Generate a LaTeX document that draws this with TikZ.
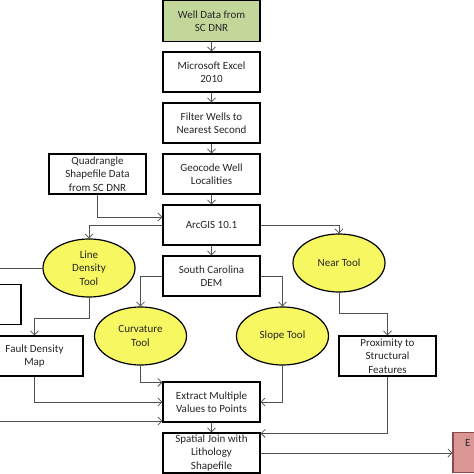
\documentclass[tikz,border=0pt]{standalone}
\usepackage{fontspec}
\setmainfont{Carlito}
\usepackage{xcolor}
\usetikzlibrary{shapes.geometric,arrows.meta}

\definecolor{wellgreen}{HTML}{C4D79B}
\definecolor{tooly}{HTML}{F7F762}
\definecolor{exportpink}{HTML}{D99694}
\definecolor{exportedge}{HTML}{8C4A48}
\definecolor{linegray}{HTML}{505050}
\definecolor{txtgray}{HTML}{262626}

\tikzset{
  stepbox/.style={draw=black, line width=1.2pt, fill=white, minimum width=97pt,
    minimum height=40pt, inner sep=0pt, align=center, text=txtgray,
    font=\fontsize{11}{13.5}\selectfont},
  toolell/.style={ellipse, draw=black, line width=1.2pt, fill=tooly, minimum width=92pt,
    minimum height=58pt, inner sep=0pt, align=center, text=txtgray,
    font=\fontsize{11}{13.5}\selectfont},
  conn/.style={draw=linegray, line width=0.8pt, -{Straight Barb[length=4pt,width=8pt]}}
}

\begin{document}
\begin{tikzpicture}[x=1pt, y=-1pt]
                \clip (0,0) rectangle (474,474);
                \fill[white] (0,0) rectangle (474,474);
                % Main chain
                \node[stepbox, fill=wellgreen, minimum height=41pt] (well) at (211.5,21) {Well Data from\\SC DNR};
                \node[stepbox] (excel) at (211.5,72) {Microsoft Excel\\2010};
                \node[stepbox] (filter) at (211.5,123) {Filter Wells to\\Nearest Second};
                \node[stepbox] (geocode) at (211.5,174) {Geocode Well\\Localities};
                \node[stepbox] (quad) at (97.5,174) {Quadrangle\\Shapefile Data\\from SC DNR};
                \node[stepbox] (arcgis) at (211.5,225) {ArcGIS 10.1};
                \node[stepbox] (dem) at (211.5,276) {South Carolina\\DEM};
                % Tools
                \node[toolell] (linedens) at (89,268) {Line\\Density\\Tool};
                \node[toolell] (near) at (339,263) {Near Tool};
                \node[toolell] (curv) at (140.5,336) {Curvature\\Tool};
                \node[toolell] (slope) at (282.5,336) {Slope Tool};
                % Outputs
                \node[stepbox] (leftbox) at (-27.5,304.5) {};
                \node[stepbox] (fault) at (34.5,356) {Fault Density\\Map};
                \node[stepbox] (prox) at (387.5,356) {Proximity to\\Structural\\Features};
                \node[stepbox] (extract) at (211.5,402) {Extract Multiple\\Values to Points};
                \node[stepbox] (sjoin) at (211.5,453) {Spatial Join with\\Lithology\\Shapefile};
                \node[stepbox, fill=exportpink, draw=exportedge] (export) at (501.5,452.5) {};
                \node[anchor=north west, inner sep=0pt, text=txtgray, font=\fontsize{11}{13.5}\selectfont] (exporttxt) at (465,439) {E};
                \coordinate (leftout) at (-5,268);
                \coordinate (leftin) at (-5,421);
                % Connectors
                \draw[conn] (well) -- (excel);
                \draw[conn] (excel) -- (filter);
                \draw[conn] (filter) -- (geocode);
                \draw[conn] (geocode) -- (arcgis);
                \draw[conn] (quad.south) |- ([yshift=8pt]arcgis.west);
                \draw[conn] (arcgis.west) -| (linedens.north);
                \draw[conn] (arcgis.east) -| (near.north);
                \draw[conn] (arcgis) -- (dem);
                \draw[conn] (dem.west) -| (curv.north);
                \draw[conn] (dem.east) -| (slope.north);
                \draw[draw=linegray, line width=0.8pt] (linedens.west) -- (leftout);
                \draw[conn] (linedens.south) -- ++(0,21) -| (fault.north);
                \draw[conn] (near.south) -- ++(0,21) -| (prox.north);
                \draw[conn] (curv.south) |- ([yshift=-1pt]extract.north west);
                \draw[conn] (fault.south) |- (extract.west);
                \draw[conn] (slope.south) |- (extract.east);
                \draw[conn] (leftin) -- (leftin -| extract.west);
                \draw[conn] (extract) -- (sjoin);
                \draw[conn] (prox.south) |- ([yshift=-1pt]sjoin.north east);
                \draw[conn] (sjoin.east) -- (sjoin.east -| export.west);
            \end{tikzpicture}
\end{document}
